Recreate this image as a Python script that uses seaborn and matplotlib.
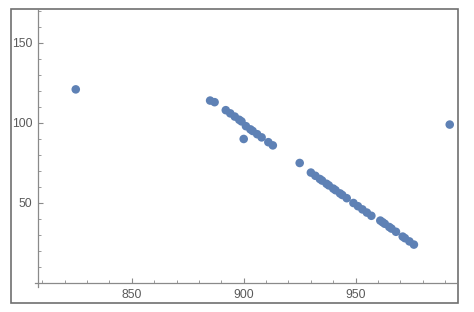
import matplotlib
matplotlib.use("Agg")
import matplotlib.pyplot as plt
import seaborn as sns
import pandas as pd
from matplotlib.patches import Rectangle
from matplotlib.ticker import MultipleLocator

x_vals = [825, 885, 887, 892, 894, 896, 898, 899, 900, 901, 903, 904, 906, 908,
          911, 913, 925, 930, 932, 934, 935, 937, 938, 940, 941, 943, 944, 946,
          949, 951, 953, 955, 957, 961, 962, 963, 965, 966, 968, 971, 972, 974,
          976, 992]
y_vals = [121, 114, 113, 108, 106, 104, 102, 101, 90, 98, 96, 95, 93, 91,
          88, 86, 75, 69, 67, 65, 64, 62, 61, 59, 58, 56, 55, 53,
          50, 48, 46, 44, 42, 39, 38, 37, 35, 34, 32, 29, 28, 26,
          24, 99]
x_ticks = [850, 900, 950]
y_ticks = [50, 100, 150]

df = pd.DataFrame({"x": x_vals, "y": y_vals})

sns.set_theme(style="white")
plt.rcParams["font.family"] = ["Liberation Sans", "DejaVu Sans"]

W, H = 474, 312
fig = plt.figure(figsize=(W / 100, H / 100), dpi=100)
fig.patch.set_facecolor("white")

left_px, right_px, bottom_px, top_px = 35, 456, 287, 10
ax = fig.add_axes([left_px / W, (H - bottom_px) / H,
                   (right_px - left_px) / W, (bottom_px - top_px) / H])

sns.scatterplot(data=df, x="x", y="y", ax=ax, color="#5E81B5", s=38,
                edgecolor="none", legend=False)

ax.set_xlim(806.8, 994.8)
ax.set_ylim(-2.5, 170.6)
ax.set_xlabel("")
ax.set_ylabel("")

axis_col = "#8a8a8a"
for side in ["top", "right"]:
    ax.spines[side].set_visible(False)
ax.spines["left"].set_position(("data", 808.2))
ax.spines["bottom"].set_position(("data", 0))
for side in ["left", "bottom"]:
    ax.spines[side].set_color(axis_col)
    ax.spines[side].set_linewidth(0.9)

ax.set_xticks(x_ticks)
ax.set_yticks(y_ticks)
ax.xaxis.set_minor_locator(MultipleLocator(10))
ax.yaxis.set_minor_locator(MultipleLocator(10))
ax.tick_params(axis="both", which="major", direction="in", length=3.5,
               width=0.8, color=axis_col, labelsize=8.7, labelcolor="#5a5a5a",
               bottom=True, left=True)
ax.tick_params(axis="both", which="minor", direction="in", length=2,
               width=0.6, color=axis_col, bottom=True, left=True)
ax.tick_params(axis="x", which="major", pad=4)
ax.tick_params(axis="y", which="major", pad=4)

frame = Rectangle((11 / W, (H - 303) / H), (458 - 11) / W, (303 - 9) / H,
                  transform=fig.transFigure, fill=False, edgecolor="#6f6f6f",
                  linewidth=1.2)
fig.patches.append(frame)

fig.savefig("out.png", dpi=100)
